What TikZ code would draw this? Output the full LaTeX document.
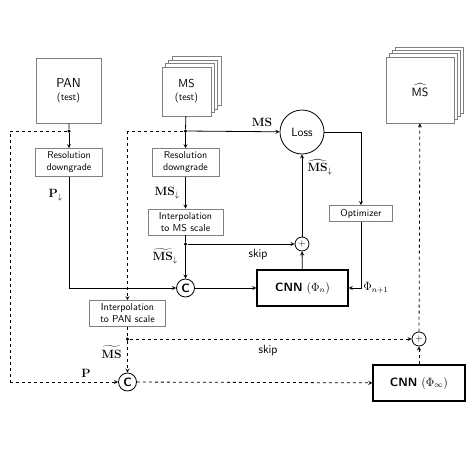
\documentclass[tikz,border=0pt]{standalone}
\usepackage{amsmath}

\begin{document}
\begin{tikzpicture}
        [   x=1pt, y=-1pt, font=\sffamily, >=stealth, line width=0.8pt,
            ImgBox/.style=
            {rectangle, draw=gray, fill=white, line width=0.6pt,
            align=center, inner sep=0pt},
            StepBox/.style=
            {rectangle, draw=gray, line width=0.6pt, align=center,
            inner xsep=11pt, inner ysep=3.5pt},
            NetBox/.style=
            {rectangle, draw=black, line width=1.3pt,
            minimum width=91pt, minimum height=36pt},
            OpNode/.style=
            {circle, draw=black, line width=0.8pt, inner sep=0pt},
            Dot/.style=
            {circle, fill=black, inner sep=0pt, minimum size=3.5pt},
            Lbl/.style=
            {font=\sffamily\large, inner sep=1pt}
        ]
            \useasboundingbox (0,0) rectangle (474,474);

            % inputs and output
            \node[ImgBox, minimum size=65pt] (pan) at (68.5,90.5)
                {{\fontsize{13}{15}\selectfont PAN}\\[1pt](test)};
            \foreach \k in {3,2,1}
                \node[ImgBox, minimum size=49pt] (ms_\k)
                    at (186.5+3.3*\k, 91.5-3.6*\k) {};
            \node[ImgBox, minimum size=49pt] (ms) at (186.5,91.5)
                {{\fontsize{11.5}{13}\selectfont MS}\\[1pt](test)};
            \foreach \k in {3,2,1}
                \node[ImgBox, minimum width=68pt, minimum height=66pt] (out_\k)
                    at (420+3.2*\k, 90-3.3*\k) {};
            \node[ImgBox, minimum width=68pt, minimum height=66pt] (out)
                at (420,90) {\large$\widehat{\text{\sffamily MS}}$};

            % processing steps
            \node[StepBox] (rdp) at (69,162.5) {Resolution\\downgrade};
            \node[StepBox] (rdm) at (185.5,162.5) {Resolution\\downgrade};
            \node[StepBox] (ims) at (185.5,222) {Interpolation\\to MS scale};
            \node[StepBox] (ipan) at (127.5,313.5) {Interpolation\\to PAN scale};
            \node[StepBox] (opt) at (361,213.5) {Optimizer};

            \node[circle, draw=black, line width=0.8pt, minimum size=44pt,
                inner sep=0pt, font=\sffamily\large] (loss) at (302,132) {Loss};
            \node[NetBox] (cnn) at (302.5,288)
                {\large\textbf{CNN} $(\Phi_n)$};
            \node[NetBox, minimum width=92pt] (cnninf) at (419,383)
                {\large\textbf{CNN} $(\Phi_\infty)$};

            \node[OpNode, minimum size=18pt] (cat1) at (185.5,288) {\large\textbf{C}};
            \node[OpNode, minimum size=18pt] (cat2) at (127.5,382) {\large\textbf{C}};
            \node[OpNode, minimum size=14pt] (add1) at (302,244) {$+$};
            \node[OpNode, minimum size=14pt] (add2) at (419,339) {$+$};

            \node[Dot] (d_pan) at (69,131) {};
            \node[Dot] (d_ms) at (185.5,131) {};
            \node[Dot] (d_skip) at (185.5,244) {};
            \node[Dot] (d_up) at (127.5,339) {};
            \coordinate (c_left) at (10,131);
            \coordinate (c_low) at (10,382);
            \coordinate (c_mid) at (127.5,131);

            % training branch
            \draw (pan) -- (d_pan);
            \draw[->] (d_pan) -- (rdp);
            \draw (ms) -- (d_ms);
            \draw[->] (d_ms) -- (rdm);
            \draw[->] (d_ms) -- (loss);
            \draw[->] (rdm) -- (ims);
            \draw (ims) -- (d_skip);
            \draw[->] (d_skip) -- (cat1);
            \draw[->] (d_skip) -- (add1);
            \draw[->] (rdp) |- (cat1);
            \draw[->] (cat1) -- (cnn);
            \draw[->] (cnn) -- (add1);
            \draw[->] (add1) -- (loss);
            \draw[->] (loss) -| (opt);
            \draw[->] (opt) |- (cnn);

            % test branch
            \draw[dashed] (d_pan) -- (c_left) -- (c_low);
            \draw[dashed, ->] (c_low) -- (cat2);
            \draw[dashed] (d_ms) -- (c_mid);
            \draw[dashed, ->] (c_mid) -- (ipan);
            \draw[dashed] (ipan) -- (d_up);
            \draw[dashed, ->] (d_up) -- (cat2);
            \draw[dashed, ->] (d_up) -- (add2);
            \draw[dashed, ->] (cat2) -- (cnninf);
            \draw[dashed, ->] (cnninf) -- (add2);
            \draw[dashed, ->] (add2) -- (out);

            % labels
            \node[Lbl] (l_ms) at (262,122) {$\mathbf{MS}$};
            \node[Lbl, anchor=east] (l_pd) at (64,195) {$\mathbf{P}_{\downarrow}$};
            \node[Lbl, anchor=east] (l_msd) at (181,193) {$\mathbf{MS}_{\downarrow}$};
            \node[Lbl, anchor=east] (l_tmsd) at (179,256) {$\widetilde{\mathbf{MS}}_{\downarrow}$};
            \node[Lbl] (l_skip1) at (258,254) {skip};
            \node[Lbl, anchor=west] (l_hmsd) at (306,167) {$\widehat{\mathbf{MS}}_{\downarrow}$};
            \node[Lbl, anchor=west] (l_phi) at (362,288) {$\Phi_{n+1}$};
            \node[Lbl, anchor=east] (l_tms) at (123,352) {$\widetilde{\mathbf{MS}}$};
            \node[Lbl] (l_p) at (86,373) {$\mathbf{P}$};
            \node[Lbl] (l_skip2) at (268,350) {skip};
    \end{tikzpicture}
\end{document}
